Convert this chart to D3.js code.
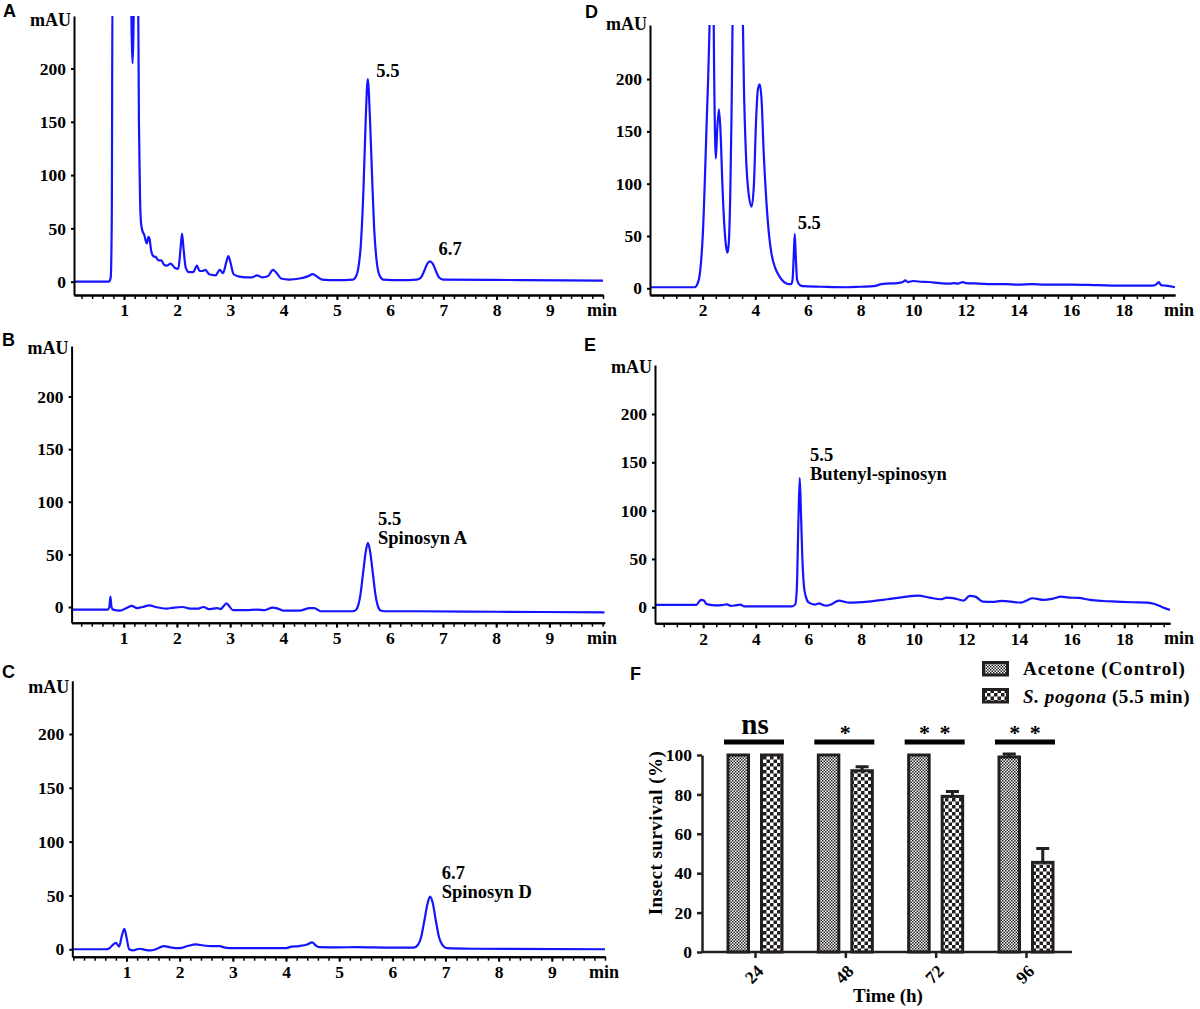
<!DOCTYPE html>
<html>
<head>
<meta charset="utf-8">
<script src="https://cdn.jsdelivr.net/npm/d3@7"></script>
<style>
body { margin: 0; background: #fff; }
svg text { font-family: "Liberation Serif", "Times New Roman", serif; font-weight: bold; fill: #000; }
.ax text { font-size: 17.5px; }
.ax path, .ax line { stroke: #000; stroke-width: 2; }
.minor line { stroke-width: 1.5; }
.fax path, .fax line { stroke: #231f20; stroke-width: 2.5; }
.fax text { font-size: 17.5px; }
.letter { font-family: "Liberation Sans", Arial, sans-serif !important; font-weight: bold !important; font-size: 18px; }
</style>
</head>
<body>
<svg width="1200" height="1009"></svg>
<script>
// chromatogram traces, [time (min), signal (mAU)]
var traceA = [[0.06,0],[0.5,0],[0.72,0],[0.75,4],[0.77,60],[0.785,300],[1.12,300],[1.145,230],[1.16,205],[1.175,230],[1.2,300],
  [1.26,300],[1.28,150],[1.3,80],[1.32,55],[1.35,47],[1.38,44],[1.41,38],[1.43,36],[1.46,42],[1.48,40],[1.51,29],[1.55,24],
  [1.6,23],[1.65,20],[1.7,20],[1.75,16],[1.8,15],[1.88,17],[1.95,13],[2.02,12],[2.06,30],[2.09,45],[2.12,30],[2.16,13],
  [2.22,9],[2.3,9],[2.37,15],[2.42,10],[2.47,10],[2.53,11],[2.6,7],[2.72,6],[2.8,11],[2.86,8],[2.92,18],[2.96,24],[3.0,18],
  [3.06,7],[3.15,5],[3.3,4],[3.4,4],[3.5,6],[3.6,4],[3.7,5],[3.8,11],[3.87,8],[3.95,3],[4.1,2],[4.3,3],[4.45,5],[4.55,7],
  [4.62,5],[4.72,2],[5.0,1.5],[5.3,2],[5.35,4],[5.4,12],[5.45,35],[5.5,88],[5.54,150],[5.58,190],[5.62,155],[5.66,100],
  [5.7,50],[5.75,18],[5.8,6],[5.87,2],[6.2,1.5],[6.5,2],[6.58,4],[6.64,10],[6.7,17],[6.75,19],[6.8,17],[6.86,10],[6.92,4],
  [7.0,2],[8.5,1.5],[10,1]];
var traceB = [[0.02,-2.5],[0.5,-2.5],[0.7,-2.5],[0.73,0],[0.75,10],[0.77,0],[0.8,-2.5],[0.93,-3.5],[1.05,-1],[1.15,1],
  [1.25,-1],[1.35,0],[1.48,1.5],[1.6,0],[1.8,-1.5],[1.95,-0.5],[2.1,0],[2.25,-1.5],[2.4,-1.5],[2.5,0],[2.6,-2],[2.75,-1],
  [2.82,-2],[2.88,1],[2.93,3.5],[2.98,1],[3.05,-3],[3.3,-3],[3.5,-2.5],[3.65,-3],[3.8,-0.5],[3.9,-1.5],[4.0,-3.5],[4.3,-3.5],
  [4.5,-1],[4.58,-1],[4.7,-4],[5.3,-4],[5.36,-3],[5.41,2],[5.45,12],[5.5,33],[5.55,53],[5.59,61],[5.63,53],[5.68,33],
  [5.73,12],[5.77,2],[5.82,-3],[5.9,-4],[6.5,-4],[8,-4.5],[10.04,-5]];
var traceC = [[0,0],[0.6,0],[0.68,1],[0.74,4],[0.8,6],[0.86,2.5],[0.91,12],[0.96,19],[1.0,11],[1.05,0],[1.12,-1],[1.25,0.5],
  [1.35,-0.5],[1.45,-1],[1.55,0],[1.7,3],[1.85,1.5],[2.0,1],[2.15,3],[2.3,4.5],[2.45,3.5],[2.6,3],[2.75,3],[2.85,1.5],[3.0,1],
  [3.5,1],[4.0,1],[4.1,2.5],[4.25,3],[4.4,4.5],[4.49,6.5],[4.56,3.5],[4.62,2],[5.0,1.8],[5.3,2],[6.0,1.5],[6.4,1.5],[6.48,4],
  [6.54,11],[6.6,26],[6.66,42],[6.71,49],[6.76,43],[6.82,26],[6.88,11],[6.94,4],[7.02,1],[7.5,0.5],[10,0]];
var traceD = [[0,1],[1.5,1],[1.7,1],[1.8,4],[1.9,15],[2.01,53],[2.14,148],[2.27,260],[2.3,300],[2.4,300],[2.44,200],[2.5,124],
  [2.55,150],[2.62,171],[2.68,150],[2.75,100],[2.82,62],[2.89,40],[2.94,34],[2.99,42],[3.05,90],[3.1,170],[3.16,280],
  [3.5,280],[3.58,180],[3.66,120],[3.75,90],[3.86,78],[3.95,100],[4.03,160],[4.1,190],[4.17,195],[4.24,180],[4.32,130],
  [4.42,84],[4.52,52],[4.61,34],[4.75,20],[4.93,11],[5.1,6],[5.3,4],[5.37,4],[5.42,9],[5.46,30],[5.5,52],[5.54,30],
  [5.59,8],[5.7,3],[5.81,2],[6.5,1.5],[7.5,1],[8.0,1.5],[8.5,2],[8.8,4],[9.0,4.5],[9.4,5],[9.6,6],[9.7,7.5],[9.8,6],
  [10.0,7],[10.2,6.5],[10.6,6],[11.0,5],[11.4,4.5],[11.55,5],[11.7,4.5],[11.9,6],[12.0,5],[12.5,4.5],[13,4],[13.5,4],
  [14,3.5],[14.5,4],[15,3.5],[15.5,3.5],[16,3.5],[17,3],[18,2.5],[19.1,2.5],[19.25,4],[19.33,6],[19.42,3],[19.6,2.5],[19.95,1]];
var traceE = [[0.17,2.4],[1.0,2.4],[1.74,2.4],[1.85,6],[1.92,7.6],[2.03,6.9],[2.1,4],[2.18,3],[2.47,2],[2.7,2.2],[2.9,3],
  [3.05,1.5],[3.2,1.8],[3.41,2.8],[3.55,1],[4,1],[5.0,1],[5.37,1],[5.5,3],[5.56,20],[5.62,90],[5.67,134],[5.72,95],
  [5.77,50],[5.83,22],[5.9,11],[6.02,4.8],[6.24,2.8],[6.41,4],[6.55,2.5],[6.68,1.7],[6.9,3.4],[7.05,6],[7.18,6.9],[7.35,5.8],
  [7.55,4.8],[8.27,5.9],[9.0,8.3],[9.6,10.5],[10.16,12],[10.6,10],[11.03,8.3],[11.25,10],[11.5,9.5],[11.9,6.9],[12.12,11.7],
  [12.34,11],[12.63,5.9],[13.0,5.5],[13.35,6.6],[13.7,5.8],[14.08,4.8],[14.3,7],[14.51,9.3],[14.95,7.6],[15.3,9],[15.6,11],
  [15.9,10],[16.26,9.7],[16.7,7.6],[17.2,6.5],[17.7,5.9],[18.3,5.2],[18.87,4.8],[19.16,3.4],[19.45,0],[19.74,-2.8]];

var minTicks10 = [1,2,3,4,5,6,7,8,9];
var minTicks20 = [2,4,6,8,10,12,14,16,18];
var mauTicks = [0,50,100,150,200];

// peak annotations [time, mAU, lines]
var notesA = [[5.74,192,["5.5"]],[6.91,25,["6.7"]]];
var notesB = [[5.78,78,["5.5","Spinosyn A"]]];
var notesC = [[6.93,65,["6.7","Spinosyn D"]]];
var notesD = [[5.61,57,["5.5"]]];
var notesE = [[6.06,151,["5.5","Butenyl-spinosyn"]]];

// survival bioassay
var hours = ["24","48","72","96"];
var groups = ["control","pogona"];
var controlSurv = [100,100,100,99];
var controlErr = [0,0,0,1.5];
var pogonaSurv = [100,92,79,45.5];
var pogonaErr = [0,2,2.5,7];
var sigMarks = ["ns","*","* *","* *"];
var survTicks = [0,20,40,60,80,100];

var svg = d3.select("svg");
var defs = svg.append("defs");

var panels = [
  {id:"A", data:traceA, notes:notesA, ticks:minTicks10, minor:0.2, x0:74, x1:603, tDom:[0.06,10], yTop:16, yBot:295, vDom:[-12.5,249.3], letter:[3,17], mau:[26], minX:587},
  {id:"B", data:traceB, notes:notesB, ticks:minTicks10, minor:0.2, x0:71.6, x1:604.7, tDom:[0.02,10.04], yTop:346, yBot:622.7, vDom:[-14.9,248], letter:[2,346], mau:[354], minX:587},
  {id:"C", data:traceC, notes:notesC, ticks:minTicks10, minor:0.2, x0:72.3, x1:605, tDom:[-0.02,10], yTop:680.7, yBot:956.7, vDom:[-6.9,249.5], letter:[2,678], mau:[693], minX:589},
  {id:"D", data:traceD, notes:notesD, ticks:minTicks20, minor:0.5, x0:650, x1:1175, tDom:[0,19.95], yTop:25, yBot:295, vDom:[-6.4,251.7], letter:[585,18], mau:[30], minX:1164},
  {id:"E", data:traceE, notes:notesE, ticks:minTicks20, minor:0.5, x0:655, x1:1170, tDom:[0.17,19.74], yTop:365, yBot:623.3, vDom:[-16.6,250.7], letter:[584,351], mau:[373], minX:1164}
];

panels.forEach(function(p) {
  var x = d3.scaleLinear().domain(p.tDom).range([p.x0, p.x1]);
  var y = d3.scaleLinear().domain(p.vDom).range([p.yBot, p.yTop]);
  var g = svg.append("g");

  defs.append("clipPath").attr("id", "clip" + p.id)
    .append("rect")
    .attr("x", p.x0).attr("y", p.yTop)
    .attr("width", p.x1 - p.x0).attr("height", p.yBot - p.yTop);

  g.append("path").datum(p.data)
    .attr("clip-path", "url(#clip" + p.id + ")")
    .attr("fill", "none")
    .attr("stroke", "#1414ff")
    .attr("stroke-width", 2.2)
    .attr("stroke-linejoin", "round")
    .attr("d", d3.line()
      .x(function(d) { return x(d[0]); })
      .y(function(d) { return y(d[1]); })
      .curve(d3.curveMonotoneX));

  var minorVals = d3.range(0, 20.01, p.minor).filter(function(t) { return t > p.tDom[0] && t <= p.tDom[1]; });
  g.append("g").attr("class", "ax minor")
    .attr("transform", "translate(0," + p.yBot + ")")
    .call(d3.axisBottom(x).tickValues(minorVals).tickSize(4).tickFormat("").tickSizeOuter(0));
  g.append("g").attr("class", "ax")
    .attr("transform", "translate(0," + p.yBot + ")")
    .call(d3.axisBottom(x).tickValues(p.ticks).tickSize(5).tickPadding(4).tickSizeOuter(0));
  g.append("g").attr("class", "ax")
    .attr("transform", "translate(" + p.x0 + ",0)")
    .call(d3.axisLeft(y).tickValues(mauTicks).tickSize(3).tickPadding(5).tickSizeOuter(0));

  g.append("text").attr("x", p.x0 - 3).attr("y", p.mau[0])
    .attr("text-anchor", "end").style("font-size", "18px").text("mAU");
  g.append("text").attr("x", p.minX).attr("y", p.yBot + 21)
    .style("font-size", "18px").text("min");
  g.append("text").attr("class", "letter")
    .attr("x", p.letter[0]).attr("y", p.letter[1]).text(p.id);

  p.notes.forEach(function(n) {
    var t = g.append("text").attr("x", x(n[0])).attr("y", y(n[1])).style("font-size", "18.5px");
    n[2].forEach(function(line, i) {
      t.append("tspan").attr("x", x(n[0])).attr("dy", i ? 19 : 0).text(line);
    });
  });
});

// ---- panel F: bar chart ----
function checker(id, cell) {
  var pat = defs.append("pattern").attr("id", id)
    .attr("patternUnits", "userSpaceOnUse")
    .attr("width", cell * 2).attr("height", cell * 2);
  pat.append("rect").attr("width", cell * 2).attr("height", cell * 2).attr("fill", "#fff");
  pat.append("rect").attr("width", cell).attr("height", cell).attr("fill", "#231f20");
  pat.append("rect").attr("x", cell).attr("y", cell).attr("width", cell).attr("height", cell).attr("fill", "#231f20");
}
checker("fine", 1.5);
checker("coarse", 3.5);

var fx = d3.scalePoint().domain(hours).range([755, 1026]);
var fin = d3.scaleBand().domain(groups).range([-27, 27]).paddingInner(0.388);
var fy = d3.scaleLinear().domain([0, 100]).range([952, 755]);
var fill = {control: "url(#fine)", pogona: "url(#coarse)"};

var barData = [];
hours.forEach(function(h, i) {
  barData.push({h: h, s: "control", v: controlSurv[i], e: controlErr[i]});
  barData.push({h: h, s: "pogona", v: pogonaSurv[i], e: pogonaErr[i]});
});

var fg = svg.append("g");

fg.selectAll(".err").data(barData.filter(function(d) { return d.e > 0; })).enter()
  .append("path").attr("class", "err")
  .attr("fill", "none").attr("stroke", "#231f20").attr("stroke-width", 3)
  .attr("d", function(d) {
    var cx = fx(d.h) + fin(d.s) + fin.bandwidth() / 2;
    return "M" + cx + "," + fy(d.v) + "V" + fy(d.v + d.e) + "M" + (cx - 6.5) + "," + fy(d.v + d.e) + "H" + (cx + 6.5);
  });

fg.selectAll(".bar").data(barData).enter()
  .append("rect").attr("class", "bar")
  .attr("x", function(d) { return fx(d.h) + fin(d.s); })
  .attr("y", function(d) { return fy(d.v); })
  .attr("width", fin.bandwidth())
  .attr("height", function(d) { return fy(0) - fy(d.v); })
  .attr("fill", function(d) { return fill[d.s]; })
  .attr("stroke", "#231f20").attr("stroke-width", 3);

var fxAxis = fg.append("g").attr("class", "fax")
  .attr("transform", "translate(0,952)")
  .call(d3.axisBottom(fx).tickSize(6).tickFormat("").tickSizeOuter(0));
fxAxis.select(".domain").remove();
fxAxis.append("line").attr("x1", 702).attr("x2", 1072).attr("y1", 0).attr("y2", 0);

fg.append("g").attr("class", "fax")
  .attr("transform", "translate(702,0)")
  .call(d3.axisLeft(fy).tickValues(survTicks).tickSize(5).tickPadding(5).tickSizeOuter(0));

fg.selectAll(".hlab").data(hours).enter()
  .append("text").attr("class", "hlab")
  .attr("text-anchor", "end")
  .attr("transform", function(h) { return "translate(" + (fx(h) + 5) + ",968) rotate(-45)"; })
  .attr("dy", "0.35em")
  .style("font-size", "17.5px")
  .text(function(h) { return h; });

fg.append("text").attr("x", 888).attr("y", 1002).attr("text-anchor", "middle")
  .style("font-size", "19px").text("Time (h)");
fg.append("text").attr("transform", "translate(662,833) rotate(-90)")
  .attr("text-anchor", "middle").style("font-size", "19px").style("letter-spacing", "0.5px")
  .text("Insect survival (%)");

fg.selectAll(".sig").data(hours).enter()
  .append("line").attr("class", "sig")
  .attr("x1", function(h) { return fx(h) - 31; })
  .attr("x2", function(h) { return fx(h) + 29; })
  .attr("y1", 742).attr("y2", 742)
  .attr("stroke", "#000").attr("stroke-width", 5);

fg.selectAll(".sigt").data(hours).enter()
  .append("text").attr("class", "sigt")
  .attr("x", function(h) { return fx(h); })
  .attr("y", function(h, i) { return sigMarks[i] === "ns" ? 734 : 740; })
  .attr("text-anchor", "middle")
  .style("font-size", function(h, i) { return sigMarks[i] === "ns" ? "29px" : "22px"; })
  .style("letter-spacing", function(h, i) { return sigMarks[i] === "* *" ? "2px" : "0px"; })
  .text(function(h, i) { return sigMarks[i]; });

var legend = fg.append("g");
var legendRows = [{s: "control", y: 662.5}, {s: "pogona", y: 689.5}];
legend.selectAll("rect").data(legendRows).enter()
  .append("rect").attr("x", 983.5).attr("y", function(d) { return d.y; })
  .attr("width", 24).attr("height", 12.5)
  .attr("fill", function(d) { return fill[d.s]; })
  .attr("stroke", "#231f20").attr("stroke-width", 3);
legend.append("text").attr("x", 1023).attr("y", 675)
  .style("font-size", "19px").style("letter-spacing", "1px").text("Acetone (Control)");
var lt = legend.append("text").attr("x", 1023).attr("y", 703)
  .style("font-size", "19px").style("letter-spacing", "0.6px");
lt.append("tspan").style("font-style", "italic").text("S. pogona");
lt.append("tspan").text(" (5.5 min)");

svg.append("text").attr("class", "letter").attr("x", 630).attr("y", 680).text("F");
</script>
</body>
</html>
